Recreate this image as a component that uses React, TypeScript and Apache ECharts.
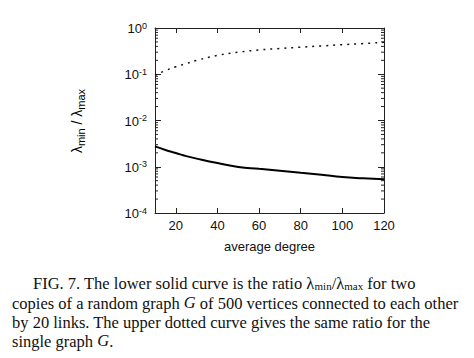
import React, { useEffect, useRef } from 'react';
import * as echarts from 'echarts';

const degrees = [10, 15, 20, 25, 30, 40, 50, 60, 70, 80, 90, 100, 110, 120];
const twoCopiesRatio = [2.75e-3, 2.3e-3, 1.98e-3, 1.7e-3, 1.5e-3, 1.2e-3, 0.99e-3, 0.9e-3, 0.82e-3, 0.74e-3, 0.67e-3, 0.6e-3, 0.565e-3, 0.54e-3];
const singleGraphRatio = [0.095, 0.12, 0.145, 0.17, 0.2, 0.255, 0.3, 0.335, 0.36, 0.385, 0.41, 0.435, 0.46, 0.49];
const xTickValues = [20, 40, 60, 80, 100, 120];
const decades = [1e-4, 1e-3, 1e-2, 1e-1];
const minorMultipliers = [2, 3, 4, 5, 6, 7, 8, 9];
const X_MIN = 10;
const X_MAX = 120;
const Y_MIN = 1e-4;
const Y_MAX = 1;

const yTitle = '{l|λ}{s|min}{l| / λ}{s|max}';
const captionLines = [
  'FIG. 7. The lower solid curve is the ratio λ{s|min}/λ{s|max} for two',
  'copies of a random graph {i|G} of 500 vertices connected to each other',
  'by 20 links. The upper dotted curve gives the same ratio for the',
  'single graph {i|G}.',
];

const SANS = '"Liberation Sans", Arial, sans-serif';
const SERIF = '"Liberation Serif", "Times New Roman", serif';

export default function App() {
  const ref = useRef<HTMLDivElement>(null);
  useEffect(() => {
    document.body.style.margin = '0';
    if (!ref.current) return;
    const chart = echarts.init(ref.current, undefined, { renderer: 'svg' });
    const minorTicks: number[][] = [];
    decades.forEach((d) => minorMultipliers.forEach((m) => minorTicks.push([X_MIN, m * d])));

    const yLabelRich = {
      b: { fontSize: 13, fontFamily: SANS, color: '#111', lineHeight: 14, verticalAlign: 'bottom' },
      e: { fontSize: 9, fontFamily: SANS, color: '#111', lineHeight: 10, verticalAlign: 'top' },
    };
    const capRich = {
      s: { fontSize: 11, fontFamily: SERIF, color: '#111', lineHeight: 10, verticalAlign: 'bottom' },
      i: { fontSize: 16.5, fontFamily: SERIF, fontStyle: 'italic', color: '#111', lineHeight: 18, verticalAlign: 'top' },
    };
    const capY = [283, 303, 322, 341];
    const capX = [33, 12, 12, 12];

    chart.setOption({
      animation: false,
      grid: { left: 155, right: 90, top: 28, bottom: 145, containLabel: false },
      xAxis: [
        {
          type: 'value',
          min: X_MIN,
          max: X_MAX,
          position: 'bottom',
          name: 'average degree',
          nameLocation: 'middle',
          nameGap: 27,
          nameTextStyle: { fontSize: 13, fontFamily: SANS, color: '#111' },
          axisLine: { show: true, onZero: false, lineStyle: { color: '#222', width: 1 } },
          axisTick: { show: true, inside: true, length: 5, customValues: xTickValues, lineStyle: { color: '#222' } },
          axisLabel: { show: true, customValues: xTickValues, margin: 6, fontSize: 13, fontFamily: SANS, color: '#111' },
          splitLine: { show: false },
        },
        {
          type: 'value',
          min: X_MIN,
          max: X_MAX,
          position: 'top',
          axisLine: { show: true, onZero: false, lineStyle: { color: '#222', width: 1 } },
          axisTick: { show: true, inside: true, length: 5, customValues: xTickValues, lineStyle: { color: '#222' } },
          axisLabel: { show: false },
          splitLine: { show: false },
        },
      ],
      yAxis: [
        {
          type: 'log',
          logBase: 10,
          min: Y_MIN,
          max: Y_MAX,
          position: 'left',
          axisLine: { show: true, onZero: false, lineStyle: { color: '#222', width: 1 } },
          axisTick: { show: true, inside: true, length: 6, lineStyle: { color: '#222' } },
          axisLabel: {
            margin: 8,
            formatter: (v: number) => `{b|10}{e|${Math.round(Math.log10(v))}}`,
            rich: yLabelRich,
          },
          splitLine: { show: false },
        },
        {
          type: 'log',
          logBase: 10,
          min: Y_MIN,
          max: Y_MAX,
          position: 'right',
          axisLine: { show: true, onZero: false, lineStyle: { color: '#222', width: 1 } },
          axisTick: { show: true, inside: true, length: 6, lineStyle: { color: '#222' } },
          axisLabel: { show: false },
          splitLine: { show: false },
        },
      ],
      series: [
        {
          type: 'line',
          name: 'two copies',
          data: degrees.map((d, i) => [d, twoCopiesRatio[i]]),
          showSymbol: false,
          smooth: true,
          lineStyle: { color: '#000', width: 2 },
          silent: true,
        },
        {
          type: 'line',
          name: 'single graph',
          data: degrees.map((d, i) => [d, singleGraphRatio[i]]),
          showSymbol: false,
          smooth: true,
          lineStyle: { color: '#111', width: 1.5, type: [2, 5] },
          silent: true,
        },
        {
          type: 'custom',
          name: 'minor ticks',
          silent: true,
          data: minorTicks,
          encode: { x: 0, y: 1 },
          renderItem: (_p: any, api: any) => {
            const v = api.value(1);
            const l = api.coord([X_MIN, v]);
            const r = api.coord([X_MAX, v]);
            return {
              type: 'group',
              children: [
                { type: 'line', shape: { x1: l[0], y1: l[1], x2: l[0] + 3, y2: l[1] }, style: { stroke: '#222', lineWidth: 1 } },
                { type: 'line', shape: { x1: r[0] - 3, y1: r[1], x2: r[0], y2: r[1] }, style: { stroke: '#222', lineWidth: 1 } },
              ],
            };
          },
        },
      ],
      graphic: [
        {
          type: 'text',
          x: 78,
          y: 121,
          rotation: Math.PI / 2,
          silent: true,
          style: {
            text: yTitle,
            align: 'center',
            verticalAlign: 'middle',
            rich: {
              l: { fontSize: 14, fontFamily: SANS, color: '#111', lineHeight: 16, verticalAlign: 'top' },
              s: { fontSize: 11, fontFamily: SANS, color: '#111', lineHeight: 10, verticalAlign: 'bottom' },
            },
          },
        },
        ...captionLines.map((t, i) => ({
          type: 'text',
          x: capX[i],
          y: capY[i],
          silent: true,
          style: {
            text: t,
            fontSize: 16.5,
            fontFamily: SERIF,
            fill: '#111',
            verticalAlign: 'middle',
            rich: capRich,
          },
        })),
      ],
    });
    return () => chart.dispose();
  }, []);
  return <div ref={ref} style={{ width: 474, height: 358 }} />;
}
